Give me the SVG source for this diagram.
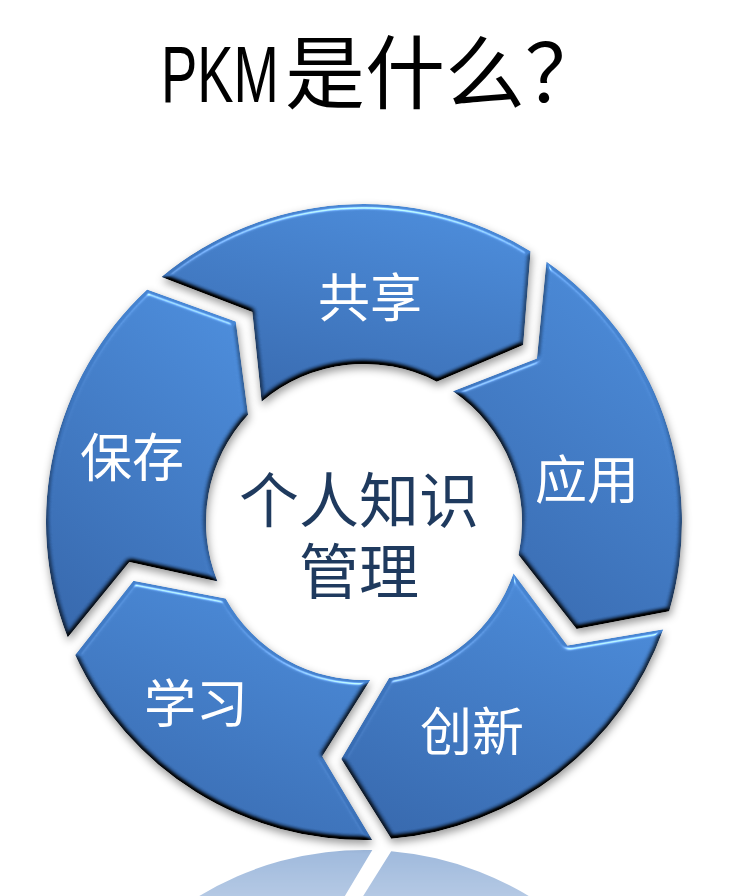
<svg xmlns="http://www.w3.org/2000/svg" width="735" height="896" viewBox="0 0 735 896">
  <defs>
    <style>
      .seg { fill: url(#segGrad); filter: url(#bevel); }
      .lbl { font-family: 'Noto Sans CJK SC', 'Noto Sans', sans-serif; font-size: 52px; fill: #ffffff; text-anchor: middle; }
      .ctr { font-family: 'Noto Sans CJK SC', 'Noto Sans', sans-serif; font-size: 60px; fill: #1f3a5e; text-anchor: middle; }
      .ttl { font-size: 80px; fill: #000000; }
      .refl { fill: #3a70b8; }
    </style>
    <linearGradient id="segGrad" x1="0.75" y1="0" x2="0.25" y2="1">
      <stop offset="0" stop-color="#4888d6"/>
      <stop offset="1" stop-color="#3466ab"/>
    </linearGradient>
    <linearGradient id="reflFade" x1="0" y1="845" x2="0" y2="896" gradientUnits="userSpaceOnUse">
      <stop offset="0" stop-color="#ffffff" stop-opacity="0.5"/>
      <stop offset="1" stop-color="#ffffff" stop-opacity="0.38"/>
    </linearGradient>
    <mask id="reflMask" maskUnits="userSpaceOnUse" x="0" y="840" width="735" height="60">
      <rect x="0" y="840" width="735" height="60" fill="url(#reflFade)"/>
    </mask>
    <filter id="bevel" x="-10%" y="-10%" width="120%" height="125%" color-interpolation-filters="sRGB">
      <feGaussianBlur in="SourceAlpha" stdDeviation="2.5" result="b"/>
      <feDiffuseLighting in="b" surfaceScale="4" diffuseConstant="1.414" lighting-color="#ffffff" result="d">
        <feDistantLight azimuth="270" elevation="45"/>
      </feDiffuseLighting>
      <feComposite in="SourceGraphic" in2="d" operator="arithmetic" k1="1" k2="0" k3="0" k4="0" result="shaded"/>
      <feSpecularLighting in="b" surfaceScale="4" specularConstant="0.5" specularExponent="40" lighting-color="#ffffff" result="s">
        <feDistantLight azimuth="270" elevation="45"/>
      </feSpecularLighting>
      <feComposite in="s" in2="SourceAlpha" operator="in" result="s2"/>
      <feComposite in="shaded" in2="s2" operator="arithmetic" k1="0" k2="1" k3="1" k4="0" result="lit"/>
      <feComposite in="lit" in2="SourceAlpha" operator="in" result="lit2"/>
      <feGaussianBlur in="SourceAlpha" stdDeviation="4" result="sb"/>
      <feOffset in="sb" dx="1" dy="4" result="so"/>
      <feFlood flood-color="#000000" flood-opacity="0.4"/>
      <feComposite in2="so" operator="in" result="sh"/>
      <feMerge>
        <feMergeNode in="sh"/>
        <feMergeNode in="lit2"/>
      </feMerge>
    </filter>
    <path id="pXuexi" d="M 372.3,839.9 A 318 318 0 0 1 75.1,654.9 L 133.4,580.8 L 225.7,598.4 A 158 158 0 0 0 370.3,679.9 L 322.3,756.3 Z"/>
    <path id="pChuangxin" d="M 663.4,629.2 A 318 318 0 0 1 391.2,838.8 L 341.2,758.9 L 389,678 A 158 158 0 0 0 513.5,573.2 L 567.4,645.6 Z"/>
  </defs>

  <rect x="0" y="0" width="735" height="896" fill="#ffffff"/>

  <g id="title">
    <text class="ttl" transform="translate(161 102) scale(0.68 1)" x="0" y="0" font-family="'Liberation Sans', sans-serif">PKM</text>
    <text class="ttl" x="285" y="102" font-family="'Noto Sans CJK SC', sans-serif">是什么？</text>
  </g>

  <g id="reflection" mask="url(#reflMask)">
    <g transform="matrix(1 0 0 -1 0 1690)">
      <use href="#pXuexi" class="refl"/>
      <use href="#pChuangxin" class="refl"/>
    </g>
  </g>

  <g id="connectors"></g>

  <g id="node-baocun">
    <path class="seg" d="M 67.7,637.5 A 318 318 0 0 1 147.1,289.4 L 235.8,321.5 L 248.1,414.7 A 158 158 0 0 0 217.6,581.4 L 129.4,562.1 Z"/>
    <text class="lbl" x="132" y="477">保存</text>
  </g>

  <g id="node-gongxiang">
    <path class="seg" d="M 161.3,277 A 318 318 0 0 1 530.6,251.2 L 523.2,345.1 L 436.7,381.7 A 158 158 0 0 0 261.6,401.7 L 252.3,311.9 Z"/>
    <text class="lbl" x="370" y="317">共享</text>
  </g>

  <g id="node-yingyong">
    <path class="seg" d="M 546.4,261.5 A 318 318 0 0 1 669.2,611.3 L 576.6,628.9 L 518.5,555.1 A 158 158 0 0 0 452.8,391.3 L 536.9,358.5 Z"/>
    <text class="lbl" x="587" y="499">应用</text>
  </g>

  <g id="node-chuangxin">
    <use href="#pChuangxin" class="seg"/>
    <text class="lbl" x="472" y="751">创新</text>
  </g>

  <g id="node-xuexi">
    <use href="#pXuexi" class="seg"/>
    <text class="lbl" x="196" y="723">学习</text>
  </g>

  <g id="node-center">
    <text class="ctr" x="359" y="523"><tspan x="359" y="523">个人知识</tspan><tspan x="359" y="594">管理</tspan></text>
  </g>
</svg>
